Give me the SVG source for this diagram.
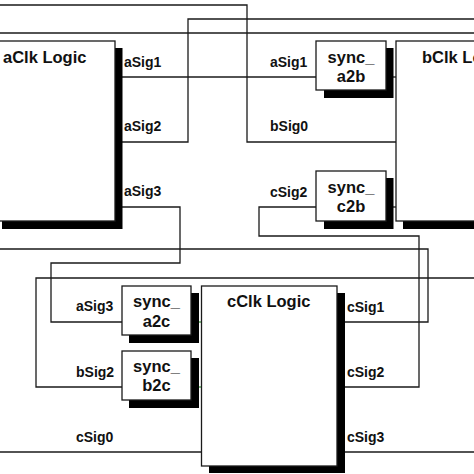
<svg xmlns="http://www.w3.org/2000/svg" width="474" height="474" viewBox="0 0 474 474">
<style>
.w{fill:none;stroke:#1a1a1a;stroke-width:1.3}
.g{fill:none;stroke:#3a9a3a;stroke-width:1.3}
.box{fill:#fff;stroke:#1a1a1a;stroke-width:1.3}
.sh{fill:#000}
.t{font-family:"Liberation Sans",Arial,sans-serif;font-weight:bold;fill:#111}
.big{font-size:16.5px}
.lbl{font-size:14px}
.c{text-anchor:middle}
</style>
<rect width="474" height="474" fill="#fff"/>
<g id="connectors">
<polyline class="w" points="396,142 247,142 247,5 0,5"/>
<polyline class="w" points="122,142 188,142 188,19 474,19"/>
<line class="w" x1="0" y1="33" x2="474" y2="33"/>
<line class="w" x1="122" y1="77" x2="316" y2="77"/>
<polyline class="w" points="122,207 180,207 180,263 51,263 51,322 122,322"/>
<polyline class="w" points="316,207 259,207 259,236 419,236 419,387 345,387"/>
<polyline class="w" points="345,322 428,322 428,249 0,249"/>
<polyline class="w" points="474,278 36,278 36,387 122,387"/>
<line class="w" x1="345" y1="452" x2="474" y2="452"/>
<line class="w" x1="0" y1="452" x2="201" y2="452"/>
<line class="w" x1="386" y1="77" x2="396" y2="77"/>
<line class="w" x1="386" y1="207" x2="396" y2="207"/>
<line class="g" x1="191" y1="322" x2="201" y2="322"/>
<line class="g" x1="191" y1="387" x2="201" y2="387"/>
</g>
<g id="aClk">
<rect class="sh" x="2" y="48" width="120.5" height="181"/>
<rect class="box" x="-5" y="41" width="120" height="180"/>
<text class="t big" x="3" y="63">aClk Logic</text>
<text class="t lbl" x="124" y="67">aSig1</text>
<text class="t lbl" x="124" y="131">aSig2</text>
<text class="t lbl" x="124" y="196">aSig3</text>
</g>
<g id="bClk">
<rect class="sh" x="403" y="48" width="80" height="181"/>
<rect class="box" x="396" y="41" width="90" height="180"/>
<text class="t big" x="422" y="63">bClk Logic</text>
<text class="t lbl" x="270" y="67">aSig1</text>
<text class="t lbl" x="270" y="131">bSig0</text>
<text class="t lbl" x="270" y="197">cSig2</text>
</g>
<g id="sync_a2b">
<rect class="sh" x="324" y="48" width="69.5" height="50"/>
<rect class="box" x="316" y="41" width="70" height="49"/>
<text class="t big c" x="351" y="63">sync_</text>
<text class="t big c" x="351" y="82">a2b</text>
</g>
<g id="sync_c2b">
<rect class="sh" x="324" y="178" width="69.5" height="51"/>
<rect class="box" x="316" y="171" width="70" height="50"/>
<text class="t big c" x="351" y="193">sync_</text>
<text class="t big c" x="351" y="212">c2b</text>
</g>
<g id="cClk">
<rect class="sh" x="209" y="293" width="136" height="180"/>
<rect class="box" x="201.5" y="286" width="135.5" height="180"/>
<text class="t big" x="227" y="307">cClk Logic</text>
<text class="t lbl" x="347" y="312">cSig1</text>
<text class="t lbl" x="347" y="377">cSig2</text>
<text class="t lbl" x="347" y="442">cSig3</text>
<text class="t lbl" x="76" y="311">aSig3</text>
<text class="t lbl" x="76" y="377">bSig2</text>
<text class="t lbl" x="76" y="442">cSig0</text>
</g>
<g id="sync_a2c">
<rect class="sh" x="129" y="293" width="70" height="50"/>
<rect class="box" x="122" y="286" width="69" height="49"/>
<text class="t big c" x="156.5" y="307">sync_</text>
<text class="t big c" x="156.5" y="327">a2c</text>
</g>
<g id="sync_b2c">
<rect class="sh" x="129" y="358" width="70" height="50"/>
<rect class="box" x="122" y="351" width="69" height="49"/>
<text class="t big c" x="156.5" y="372">sync_</text>
<text class="t big c" x="156.5" y="391">b2c</text>
</g>
</svg>
